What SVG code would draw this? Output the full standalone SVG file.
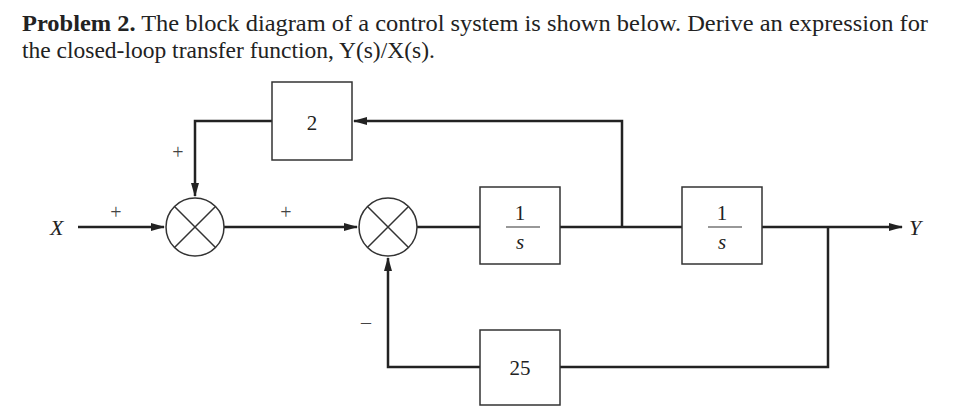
<svg xmlns="http://www.w3.org/2000/svg" width="964" height="418" viewBox="0 0 964 418">
<defs><marker id="ar" markerWidth="14" markerHeight="8" refX="13" refY="4" orient="auto" markerUnits="userSpaceOnUse"><path d="M0,0 L14,4 L0,8 Z" fill="#222"/></marker>
<style>.l{stroke:#222;stroke-width:2.5;fill:none}.b{stroke:#333;stroke-width:1.5;fill:#fff}.t{font-family:"Liberation Serif",serif;fill:#222}.s{font-size:21px}.sg{font-size:20px;fill:#444}</style></defs>
<rect width="964" height="418" fill="#fff"/>
<text class="t" x="22" y="31" font-size="23.5" textLength="906" lengthAdjust="spacingAndGlyphs"><tspan font-weight="bold">Problem 2.</tspan> The block diagram of a control system is shown below.  Derive an expression for</text>
<text class="t" x="22" y="58" font-size="23.5">the closed-loop transfer function, Y(s)/X(s).</text>
<g id="connectors">
<path class="l" d="M78,227 H164" marker-end="url(#ar)"/>
<path class="l" d="M224,227 H357" marker-end="url(#ar)"/>
<path class="l" d="M417,227 H480"/>
<path class="l" d="M560,227 H682"/>
<path class="l" d="M622,227 V121 H354" marker-end="url(#ar)"/>
<path class="l" d="M272,121 H195 V196" marker-end="url(#ar)"/>
<path class="l" d="M762,227 H902" marker-end="url(#ar)"/>
<path class="l" d="M828,227 V367 H560"/>
<path class="l" d="M480,367 H388 V258" marker-end="url(#ar)"/>
</g>
<g id="sum1"><circle class="b" cx="195" cy="227" r="29"/><path class="b" d="M174.5,206.5 L215.5,247.5 M215.5,206.5 L174.5,247.5"/></g>
<g id="sum2"><circle class="b" cx="388" cy="227" r="29"/><path class="b" d="M367.5,206.5 L408.5,247.5 M408.5,206.5 L367.5,247.5"/></g>
<g id="gain2"><rect class="b" x="272" y="82" width="80" height="78"/><text class="t s" x="312" y="130" text-anchor="middle">2</text></g>
<g id="int1"><rect class="b" x="480" y="187" width="80" height="77"/><text class="t s" x="520" y="220" text-anchor="middle">1</text><line x1="506" y1="227" x2="540" y2="227" stroke="#333" stroke-width="1.2"/><text class="t s" x="520" y="249" text-anchor="middle" font-style="italic">s</text></g>
<g id="int2"><rect class="b" x="682" y="187" width="80" height="77"/><text class="t s" x="722" y="220" text-anchor="middle">1</text><line x1="708" y1="227" x2="742" y2="227" stroke="#333" stroke-width="1.2"/><text class="t s" x="722" y="249" text-anchor="middle" font-style="italic">s</text></g>
<g id="gain25"><rect class="b" x="480" y="330" width="80" height="75"/><text class="t s" x="520" y="375" text-anchor="middle">25</text></g>
<text class="t" x="50" y="235" font-size="22" font-style="italic">X</text>
<text class="t" x="909" y="235" font-size="22" font-style="italic">Y</text>
<text class="t sg" x="116" y="219" text-anchor="middle">+</text>
<text class="t sg" x="178" y="159" text-anchor="middle">+</text>
<text class="t sg" x="286" y="219" text-anchor="middle">+</text>
<text class="t sg" x="366" y="329" text-anchor="middle">–</text>
</svg>
